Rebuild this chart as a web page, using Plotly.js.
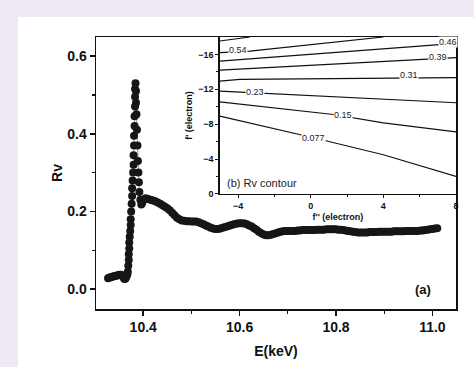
<!DOCTYPE html>
<html>
<head>
<meta charset="utf-8">
<script src="https://cdn.plot.ly/plotly-3.0.1.min.js"></script>
<style>
  html, body { margin: 0; padding: 0; background: #efe9f6; }
  #chart { position: absolute; left: 18px; top: 17px; width: 456px; height: 350px; }
</style>
</head>
<body>
<div id="chart"></div>
<script>
// ---- main spectrum (a) ----
const preEdgeE  = [10.327,10.330,10.333,10.336,10.339,10.342,10.345,10.348,10.351,10.354,10.357,10.359,10.361,10.363,10.365,10.367];
const preEdgeRv = [0.028,0.030,0.031,0.032,0.033,0.034,0.035,0.036,0.037,0.037,0.035,0.030,0.026,0.027,0.032,0.038];

const edgeE  = [10.368,10.369,10.370,10.370,10.371,10.371,10.372,10.373,10.374,10.374,10.375,10.376,10.377,10.377,10.378,10.379,10.380,10.380,10.381,10.381,10.382,10.382,10.383,10.383,10.383,10.384,
                10.385,10.385,10.386,10.387,10.388,10.389,10.390,10.391,10.392,10.394,10.396,10.398,10.401];
const edgeRv = [0.045,0.060,0.075,0.090,0.105,0.120,0.135,0.150,0.165,0.180,0.200,0.220,0.240,0.260,0.280,0.300,0.320,0.345,0.370,0.395,0.420,0.445,0.470,0.495,0.515,0.530,
                0.510,0.480,0.450,0.410,0.370,0.330,0.300,0.275,0.250,0.230,0.218,0.222,0.230];

const tailE  = [10.405,10.410,10.415,10.420,10.425,10.430,10.435,10.440,10.445,10.450,10.455,10.460,10.465,10.470,10.475,10.480,10.485,10.490,10.495,10.500,
                10.505,10.510,10.515,10.520,10.525,10.530,10.535,10.540,10.545,10.550,10.555,10.560,10.565,10.570,10.575,10.580,10.585,10.590,10.595,10.600,
                10.605,10.610,10.615,10.620,10.625,10.630,10.635,10.640,10.645,10.650,10.655,10.660,10.665,10.670,10.675,10.680,10.685,10.690,10.695,10.700,
                10.705,10.710,10.715,10.720,10.725,10.730,10.735,10.740,10.745,10.750,10.755,10.760,10.765,10.770,10.775,10.780,10.785,10.790,10.795,10.800,
                10.805,10.810,10.815,10.820,10.825,10.830,10.835,10.840,10.845,10.850,10.855,10.860,10.865,10.870,10.875,10.880,10.885,10.890,10.895,10.900,
                10.905,10.910,10.915,10.920,10.925,10.930,10.935,10.940,10.945,10.950,10.955,10.960,10.965,10.970,10.975,10.980,10.985,10.990,10.995,11.000,
                11.005,11.010];
const tailRv = [0.234,0.232,0.230,0.228,0.226,0.223,0.220,0.216,0.212,0.208,0.203,0.197,0.190,0.184,0.180,0.177,0.176,0.175,0.175,0.174,
                0.174,0.174,0.172,0.170,0.167,0.164,0.161,0.158,0.156,0.155,0.155,0.156,0.158,0.160,0.162,0.164,0.166,0.168,0.169,0.170,
                0.170,0.169,0.167,0.164,0.161,0.157,0.153,0.148,0.144,0.141,0.139,0.139,0.140,0.142,0.144,0.146,0.148,0.149,0.150,0.150,
                0.150,0.150,0.150,0.151,0.151,0.152,0.152,0.152,0.152,0.152,0.152,0.153,0.153,0.153,0.153,0.154,0.154,0.154,0.154,0.154,
                0.153,0.153,0.152,0.151,0.150,0.149,0.148,0.147,0.146,0.146,0.146,0.146,0.146,0.147,0.147,0.147,0.147,0.148,0.148,0.148,
                0.148,0.148,0.148,0.149,0.149,0.149,0.149,0.149,0.150,0.150,0.150,0.150,0.150,0.150,0.151,0.151,0.152,0.153,0.154,0.155,
                0.156,0.157];

// ---- inset (b) Rv contour lines, f'' (x) vs f' (y) ----
const contourLevels = ["0.077","0.15","0.23","0.31","0.39","0.46","0.54",""];
const contourX = [
  [-5, 0.15, 4.0, 8],
  [-5, 1.25, 4.0, 8],
  [-5, -2.4, 8],
  [-5, -3.9, 8],
  [-5, 8],
  [-5, 8],
  [-5, -3.34, 4.0],
  [-5, -3.34]
];
const contourY = [
  [-8.92, -6.45, -4.5, -2.02],
  [-10.57, -9.11, -8.16, -7.13],
  [-11.79, -11.53, -10.46],
  [-12.94, -13.14, -13.33],
  [-14.21, -15.63],
  [-15.24, -17.28],
  [-16.2, -16.39, -18.0],
  [-17.54, -18.0]
];
const labelX = [0.17, 1.8, -3.05, 5.4, 7.0, 7.55, -4.0];
const labelY = [-6.43, -9.03, -11.72, -13.62, -15.65, -17.4, -16.5];

const traces = [{
  x: preEdgeE.concat(edgeE, tailE),
  y: preEdgeRv.concat(edgeRv, tailRv),
  type: 'scatter', mode: 'lines+markers',
  line: {color: '#9a9a9a', width: 1},
  marker: {color: '#161616', size: 8},
  xaxis: 'x', yaxis: 'y', hoverinfo: 'skip'
}];
for (let i = 0; i < contourX.length; i++) {
  traces.push({
    x: contourX[i], y: contourY[i], type: 'scatter', mode: 'lines',
    line: {color: '#111', width: 1.2},
    xaxis: 'x2', yaxis: 'y2', hoverinfo: 'skip'
  });
}

const annotations = [];
for (let i = 0; i < labelX.length; i++) {
  annotations.push({
    x: labelX[i], y: labelY[i], xref: 'x2', yref: 'y2', text: contourLevels[i],
    showarrow: false, bgcolor: 'white', borderpad: 0,
    font: {family: 'Liberation Sans, Arial', size: 9, color: '#222'}
  });
}
annotations.push({
  x: -4.7, y: -1.2, xref: 'x2', yref: 'y2', text: '(b) Rv contour', showarrow: false,
  xanchor: 'left', font: {family: 'Liberation Sans, Arial', size: 11, color: '#222'}
});
annotations.push({
  x: 10.98, y: -0.002, xref: 'x', yref: 'y', text: '(a)', showarrow: false,
  font: {family: 'Liberation Sans, Arial', size: 13, color: '#111', weight: 'bold'}
});

const axFont = {family: 'Liberation Sans, Arial', size: 14, color: '#111', weight: 'bold'};
const inFont = {family: 'Liberation Sans, Arial', size: 9, color: '#111', weight: 'bold'};

const layout = {
  width: 456, height: 350,
  margin: {l: 78, r: 18, t: 20, b: 58},
  paper_bgcolor: 'white', plot_bgcolor: 'white',
  showlegend: false,
  xaxis: {
    domain: [0, 1], range: [10.302, 11.049], showgrid: false, zeroline: false,
    showline: true, linecolor: '#111', linewidth: 1.5, mirror: true,
    ticks: 'outside', ticklen: 5, tickwidth: 1.5, tickcolor: '#111',
    tickvals: [10.4, 10.6, 10.8, 11.0], ticktext: ['10.4', '10.6', '10.8', '11.0'],
    minor: {tickvals: [10.5, 10.7, 10.9], ticklen: 3, tickwidth: 1.2, tickcolor: '#111'},
    tickfont: axFont,
    title: {text: 'E(keV)', font: axFont, standoff: 12}
  },
  yaxis: {
    domain: [0, 1], range: [-0.051, 0.649], showgrid: false, zeroline: false,
    showline: true, linecolor: '#111', linewidth: 1.5, mirror: true,
    ticks: 'outside', ticklen: 5, tickwidth: 1.5, tickcolor: '#111',
    tickvals: [0, 0.2, 0.4, 0.6], ticktext: ['0.0', '0.2', '0.4', '0.6'],
    minor: {tickvals: [0.1, 0.3, 0.5], ticklen: 3, tickwidth: 1.2, tickcolor: '#111'},
    tickfont: axFont,
    title: {text: 'Rv', font: axFont, standoff: 1}
  },
  xaxis2: {
    domain: [0.344, 1], anchor: 'y2', range: [-5, 8], showgrid: false, zeroline: false,
    showline: true, linecolor: '#111', linewidth: 1.5, mirror: true,
    ticks: 'outside', ticklen: 3, tickwidth: 1, tickcolor: '#111',
    tickvals: [-4, 0, 4, 8],
    minor: {tickvals: [-2, 2, 6], ticklen: 2, tickwidth: 1, tickcolor: '#111'},
    tickfont: inFont,
    title: {text: "f'' (electron)", font: inFont, standoff: 3}
  },
  yaxis2: {
    domain: [0.423, 1], anchor: 'x2', range: [0, -18], showgrid: false, zeroline: false,
    showline: true, linecolor: '#111', linewidth: 1.5, mirror: true,
    ticks: 'outside', ticklen: 3, tickwidth: 1, tickcolor: '#111',
    tickvals: [0, -4, -8, -12, -16],
    minor: {tickvals: [-2, -6, -10, -14], ticklen: 2, tickwidth: 1, tickcolor: '#111'},
    tickfont: inFont,
    title: {text: "f' (electron)", font: inFont, standoff: 4}
  },
  annotations: annotations
};

Plotly.newPlot('chart', traces, layout, {displayModeBar: false, staticPlot: true});
</script>
</body>
</html>
